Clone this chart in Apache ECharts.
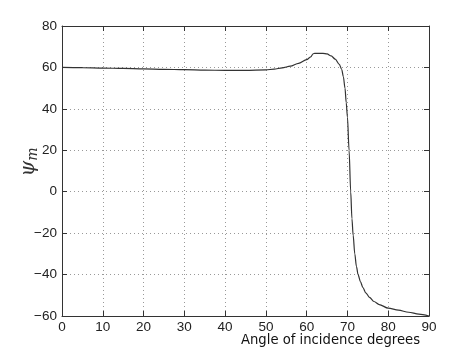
<!DOCTYPE html>
<html><head><meta charset="utf-8">
<script src="https://cdn.jsdelivr.net/npm/echarts@6/dist/echarts.min.js"></script>
<style>html,body{margin:0;padding:0;background:#fff}#c{width:474px;height:355px}</style>
</head><body><div id="c"></div>
<script>
const angles = [0,5,10,15,20,25,30,35,40,45,50,52,54,56,58,60,61,61.6,62,63,64,65,66,67,68,68.6,69,69.4,69.7,70,70.4,70.8,71.1,71.4,71.8,72.2,72.6,73.2,73.8,74.5,75.4,76.5,77.8,80,82.5,85,87.5,90];
const psiM = [60,59.9,59.7,59.5,59.3,59.1,58.9,58.7,58.6,58.6,58.8,59.2,59.8,60.6,62,63.8,65.1,66.6,66.8,66.8,66.8,66.5,65.6,64,61.5,59,55.5,50,43,36,20,0,-13,-21,-30,-36,-40,-43.5,-46.3,-48.8,-51,-53,-54.5,-56.2,-57.2,-58.2,-59.1,-60];
const xTicks = [0,10,20,30,40,50,60,70,80,90];
const yTicks = [-60,-40,-20,0,20,40,60,80];
const xLabel = 'Angle of incidence degrees';

const fontFam = 'Liberation Sans, Arial, sans-serif';
const frame = '#333';
const fmt = v => String(v).replace('-', '\u2212');
const common = {
  axisLine: {show: true, onZero: false, lineStyle: {color: frame, width: 1}},
  axisTick: {show: true, inside: true, length: 5, lineStyle: {color: frame}},
};
const chart = echarts.init(document.getElementById('c'), null, {renderer: 'canvas'});
chart.setOption({
  animation: false,
  backgroundColor: '#fff',
  grid: {left: 62, right: 45, top: 26, bottom: 39, containLabel: false, outerBoundsMode: 'none'},
  xAxis: [{
    type: 'value', min: 0, max: 90, interval: 10, position: 'bottom',
    ...common,
    axisLabel: {fontFamily: fontFam, fontSize: 13.5, color: '#222', margin: 4, formatter: fmt},
    splitLine: {show: true, lineStyle: {color: '#999', type: [1, 3], width: 1}},
    name: xLabel, nameLocation: 'middle', nameGap: 18, nameMoveOverlap: false,
    nameTextStyle: {fontFamily: 'DejaVu Sans, sans-serif', fontSize: 13.2, color: '#111', padding: [0, 0, 0, 170]}
  }, {
    type: 'value', min: 0, max: 90, interval: 10, position: 'top',
    ...common, axisLabel: {show: false}, splitLine: {show: false}
  }],
  yAxis: [{
    type: 'value', min: -60, max: 80, interval: 20, position: 'left',
    ...common,
    axisLabel: {fontFamily: fontFam, fontSize: 13.5, color: '#222', margin: 5, formatter: fmt},
    splitLine: {show: true, lineStyle: {color: '#999', type: [1, 3], width: 1}},
    name: '{a|ψ}{b|m}', nameLocation: 'middle', nameGap: 22, nameMoveOverlap: false,
    nameTextStyle: {
      padding: [0, 0, 0, 18],
      rich: {
        a: {fontFamily: 'DejaVu Serif, serif', fontStyle: 'italic', fontSize: 20, color: '#333'},
        b: {fontFamily: 'DejaVu Serif, serif', fontStyle: 'italic', fontSize: 14, color: '#333', padding: [8, 0, 0, 0]}
      }
    }
  }, {
    type: 'value', min: -60, max: 80, interval: 20, position: 'right',
    ...common, axisLabel: {show: false}, splitLine: {show: false}
  }],
  series: [{
    type: 'line', xAxisIndex: 0, yAxisIndex: 0,
    data: angles.map((a, i) => [a, psiM[i]]),
    smooth: 0.3, smoothMonotone: 'x', showSymbol: false,
    lineStyle: {color: '#333', width: 1.2}
  }]
});
</script></body></html>
